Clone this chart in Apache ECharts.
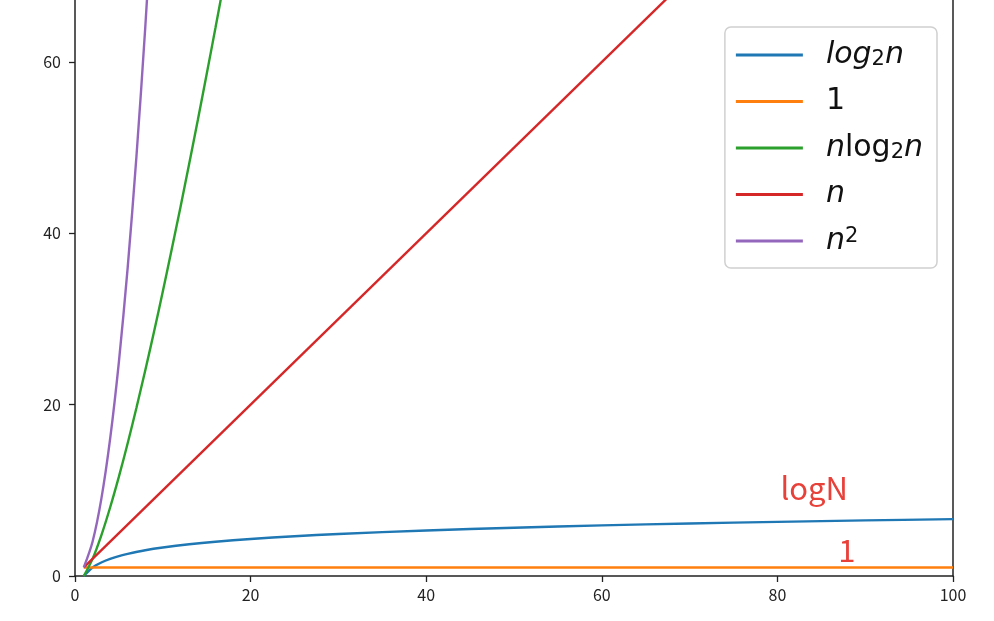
<!DOCTYPE html>
<html>
<head>
<meta charset="utf-8">
<script src="https://cdn.jsdelivr.net/npm/echarts@6/dist/echarts.min.js"></script>
<style>html,body{margin:0;padding:0;background:#fff}#c{width:994px;height:621px}</style>
</head>
<body>
<div id="c"></div>
<script>
// Sample points: [n, value]
const log2nData = [[1,0],[2,1],[3,1.58],[4,2],[5,2.32],[6,2.58],[8,3],[10,3.32],[13,3.7],[16,4],[20,4.32],[25,4.64],[30,4.91],[40,5.32],[50,5.64],[60,5.91],[70,6.13],[80,6.32],[90,6.49],[100,6.64]];
const oneData = [[1,1],[100,1]];
const nlog2nData = [[1,0],[2,2],[3,4.75],[4,8],[5,11.6],[6,15.5],[7,19.65],[8,24],[9,28.5],[10,33.2],[11,38.05],[12,43],[13,48.1],[14,53.3],[15,58.6],[16,64],[17,69.5],[18,75.1]];
const nData = [[1,1],[100,100]];
const n2Data = [[1,1],[2,4],[3,9],[4,16],[5,25],[6,36],[7,49],[8,64],[9,81]];
const seriesNames = ['log2n','1','nlog2n','n','n2'];
const seriesColors = ['#1f77b4','#ff7f0e','#2ca02c','#d62728','#9467bd'];
const xTicks = [0,20,40,60,80,100];
const yTicks = [0,20,40,60];
const annotations = [{text:'logN', x:84.2, y:10.3},{text:'1', x:87.9, y:3.0}];

const chart = echarts.init(document.getElementById('c'), null, {renderer:'canvas'});
const allData = [log2nData, oneData, nlog2nData, nData, n2Data];
const legendFmt = {
  'log2n': '{it|log}{sub|2}{it|n}',
  '1': '{rm|1}',
  'nlog2n': '{it|n}{rm|log}{sub|2}{it|n}',
  'n': '{it|n}',
  'n2': '{it|n}{sup|2}'
};
const axisFont = {fontFamily:'"Noto Sans CJK SC", sans-serif', fontSize:16, color:'#222'};
const series = seriesNames.map((name,i)=>({
  name, type:'line', data: allData[i], smooth: allData[i].length > 2 ? 0.3 : false,
  showSymbol:false, symbol:'none', clip:true,
  lineStyle:{color:seriesColors[i], width:2.4}, itemStyle:{color:seriesColors[i]},
  z: 2 + i
}));
series[0].markPoint = {
  symbol:'circle', symbolSize:0, silent:true,
  data: annotations.map(a=>({coord:[a.x,a.y], value:a.text})),
  label:{show:true, position:'inside', formatter:p=>p.value, color:'#e8413a', fontSize:31, fontFamily:'"Noto Sans CJK SC", sans-serif'}
};
chart.setOption({
  animation:false,
  backgroundColor:'#fff',
  grid:{left:75, right:41, top:0, bottom:45, containLabel:false},
  xAxis:{type:'value', min:0, max:100, interval:20,
    axisLine:{show:true, onZero:false, lineStyle:{color:'#222', width:1.5}},
    axisTick:{show:true, length:6, lineStyle:{color:'#222', width:1.3}, customValues: xTicks},
    axisLabel:Object.assign({margin:11, customValues: xTicks}, axisFont),
    splitLine:{show:false}},
  yAxis:[{type:'value', min:0, max:67.24,
    axisLine:{show:true, lineStyle:{color:'#222', width:1.5}},
    axisTick:{show:true, length:6, lineStyle:{color:'#222', width:1.3}, customValues: yTicks},
    axisLabel:Object.assign({margin:14, customValues: yTicks}, axisFont),
    splitLine:{show:false}},
   {type:'value', min:0, max:67.24, position:'right',
    axisLine:{show:true, lineStyle:{color:'#222', width:1.5}},
    axisTick:{show:false}, axisLabel:{show:false}, splitLine:{show:false}}],
  legend:{
    data: seriesNames, orient:'vertical', right:57, top:27,
    backgroundColor:'#fff', borderColor:'#d0d0d0', borderWidth:1.5, borderRadius:6,
    padding:[13,14,12,11], itemWidth:67, itemHeight:3, itemGap:16.5,
    icon:'rect',
    formatter: n=>legendFmt[n],
    textStyle:{
      padding:[0,0,0,18],
      rich:{
        it:{fontFamily:'"DejaVu Sans"', fontStyle:'italic', fontSize:30, lineHeight:30, color:'#111'},
        rm:{fontFamily:'"DejaVu Sans"', fontSize:30, lineHeight:30, color:'#111'},
        sub:{fontFamily:'"DejaVu Sans"', fontSize:21, lineHeight:22, verticalAlign:'bottom', color:'#111', padding:[9,0,0,0]},
        sup:{fontFamily:'"DejaVu Sans"', fontSize:21, lineHeight:22, verticalAlign:'top', color:'#111', padding:[0,0,9,0]}
      }
    }
  },
  series
});
</script>
</body>
</html>
